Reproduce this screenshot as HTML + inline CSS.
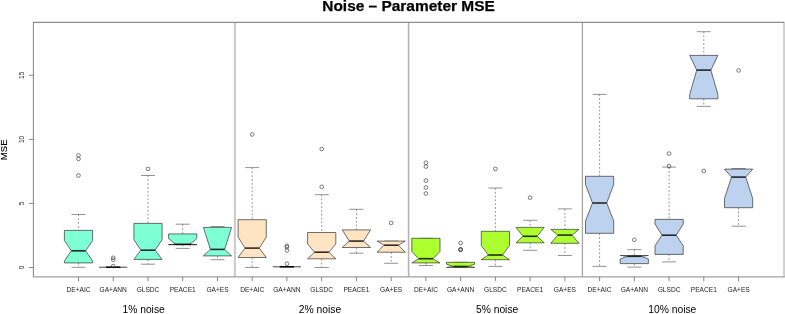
<!DOCTYPE html>
<html lang="en"><head><meta charset="utf-8"><title>Noise – Parameter MSE</title>
<style>html,body{margin:0;padding:0;background:#fff;}body{width:785px;height:314px;position:relative;overflow:hidden;font-family:"Liberation Sans",Arial,sans-serif;}</style></head>
<body>
<svg width="785" height="314" viewBox="0 0 785 314" style="display:block;position:absolute;left:0;top:0" font-family="'Liberation Sans', Arial, Helvetica, sans-serif">
<rect x="0" y="0" width="785" height="314" fill="#fff"/>
<line x1="78.5" y1="214.5" x2="78.5" y2="230.4" stroke="#777" stroke-width="0.8" stroke-dasharray="1.8 2.02"/>
<line x1="78.5" y1="262.9" x2="78.5" y2="267.3" stroke="#777" stroke-width="0.8" stroke-dasharray="1.8 2.02"/>
<line x1="71.5" y1="214.5" x2="85.5" y2="214.5" stroke="#777" stroke-width="0.8"/>
<line x1="71.5" y1="267.3" x2="85.5" y2="267.3" stroke="#777" stroke-width="0.8"/>
<polygon points="64.4,262.9 92.6,262.9 92.6,261.0 85.6,250.8 92.6,240.6 92.6,230.4 64.4,230.4 64.4,240.6 71.4,250.8 64.4,261.0" fill="#7FFFD4" stroke="#333" stroke-width="0.7" stroke-linejoin="round"/>
<line x1="71.4" y1="250.8" x2="85.6" y2="250.8" stroke="#000" stroke-opacity="0.82" stroke-width="1.6"/>
<circle cx="78.5" cy="155.4" r="1.85" fill="none" stroke="#444" stroke-width="0.7"/>
<circle cx="78.5" cy="158.9" r="1.85" fill="none" stroke="#444" stroke-width="0.7"/>
<circle cx="78.5" cy="175.5" r="1.85" fill="none" stroke="#444" stroke-width="0.7"/>
<line x1="99.1" y1="267.2" x2="127.3" y2="267.2" stroke="#333" stroke-width="0.9"/>
<line x1="106.1" y1="267.2" x2="120.3" y2="267.2" stroke="#000" stroke-width="1.5"/>
<circle cx="113.2" cy="266.1" r="1.85" fill="none" stroke="#444" stroke-width="0.7"/>
<circle cx="113.2" cy="259.7" r="1.85" fill="none" stroke="#444" stroke-width="0.7"/>
<circle cx="113.2" cy="257.8" r="1.85" fill="none" stroke="#444" stroke-width="0.7"/>
<line x1="148.0" y1="175.5" x2="148.0" y2="223.4" stroke="#777" stroke-width="0.8" stroke-dasharray="1.8 2.02"/>
<line x1="148.0" y1="259.4" x2="148.0" y2="264.2" stroke="#777" stroke-width="0.8" stroke-dasharray="1.8 2.02"/>
<line x1="141.0" y1="175.5" x2="155.0" y2="175.5" stroke="#777" stroke-width="0.8"/>
<line x1="141.0" y1="264.2" x2="155.0" y2="264.2" stroke="#777" stroke-width="0.8"/>
<polygon points="133.9,259.4 162.1,259.4 162.1,259.4 155.1,250.2 162.1,239.6 162.1,223.4 133.9,223.4 133.9,239.6 140.9,250.2 133.9,259.4" fill="#7FFFD4" stroke="#333" stroke-width="0.7" stroke-linejoin="round"/>
<line x1="140.9" y1="250.2" x2="155.1" y2="250.2" stroke="#000" stroke-opacity="0.82" stroke-width="1.6"/>
<circle cx="148.0" cy="168.9" r="1.85" fill="none" stroke="#444" stroke-width="0.7"/>
<line x1="182.7" y1="224.2" x2="182.7" y2="233.9" stroke="#777" stroke-width="0.8" stroke-dasharray="1.8 2.02"/>
<line x1="182.7" y1="244.6" x2="182.7" y2="248.4" stroke="#777" stroke-width="0.8" stroke-dasharray="1.8 2.02"/>
<line x1="175.7" y1="224.2" x2="189.7" y2="224.2" stroke="#777" stroke-width="0.8"/>
<line x1="175.7" y1="248.4" x2="189.7" y2="248.4" stroke="#777" stroke-width="0.8"/>
<polygon points="168.6,244.6 196.8,244.6 196.8,244.6 189.8,244.3 196.8,238.6 196.8,233.9 168.6,233.9 168.6,238.6 175.6,244.3 168.6,244.6" fill="#7FFFD4" stroke="#333" stroke-width="0.7" stroke-linejoin="round"/>
<line x1="168.6" y1="244.6" x2="196.8" y2="244.6" stroke="#333" stroke-width="0.9"/>
<line x1="174.4" y1="244.3" x2="191.0" y2="244.3" stroke="#000" stroke-opacity="0.82" stroke-width="1.6"/>
<line x1="217.5" y1="226.5" x2="217.5" y2="227.4" stroke="#777" stroke-width="0.8" stroke-dasharray="1.8 2.02"/>
<line x1="217.5" y1="255.9" x2="217.5" y2="259.7" stroke="#777" stroke-width="0.8" stroke-dasharray="1.8 2.02"/>
<line x1="210.5" y1="226.5" x2="224.5" y2="226.5" stroke="#777" stroke-width="0.8"/>
<line x1="210.5" y1="259.7" x2="224.5" y2="259.7" stroke="#777" stroke-width="0.8"/>
<polygon points="203.4,255.9 231.6,255.9 231.6,255.9 224.6,249.4 231.6,227.4 231.6,227.4 203.4,227.4 203.4,227.4 210.4,249.4 203.4,255.9" fill="#7FFFD4" stroke="#333" stroke-width="0.7" stroke-linejoin="round"/>
<line x1="210.4" y1="249.4" x2="224.6" y2="249.4" stroke="#000" stroke-opacity="0.82" stroke-width="1.6"/>
<line x1="252.2" y1="167.6" x2="252.2" y2="219.7" stroke="#777" stroke-width="0.8" stroke-dasharray="1.8 2.02"/>
<line x1="252.2" y1="257.5" x2="252.2" y2="267.5" stroke="#777" stroke-width="0.8" stroke-dasharray="1.8 2.02"/>
<line x1="245.2" y1="167.6" x2="259.2" y2="167.6" stroke="#777" stroke-width="0.8"/>
<line x1="245.2" y1="267.5" x2="259.2" y2="267.5" stroke="#777" stroke-width="0.8"/>
<polygon points="238.1,257.5 266.3,257.5 266.3,257.5 259.3,248.1 266.3,237.0 266.3,219.7 238.1,219.7 238.1,237.0 245.1,248.1 238.1,257.5" fill="#FFE4C4" stroke="#333" stroke-width="0.7" stroke-linejoin="round"/>
<line x1="245.1" y1="248.1" x2="259.3" y2="248.1" stroke="#000" stroke-opacity="0.82" stroke-width="1.6"/>
<circle cx="252.2" cy="134.4" r="1.85" fill="none" stroke="#444" stroke-width="0.7"/>
<line x1="272.8" y1="266.8" x2="301.0" y2="266.8" stroke="#333" stroke-width="0.9"/>
<line x1="279.8" y1="266.8" x2="294.0" y2="266.8" stroke="#000" stroke-width="1.5"/>
<circle cx="286.9" cy="263.7" r="1.85" fill="none" stroke="#444" stroke-width="0.7"/>
<circle cx="286.9" cy="250.5" r="1.85" fill="none" stroke="#444" stroke-width="0.7"/>
<circle cx="286.9" cy="247.1" r="1.85" fill="none" stroke="#444" stroke-width="0.7"/>
<circle cx="286.9" cy="245.8" r="1.85" fill="none" stroke="#444" stroke-width="0.7"/>
<line x1="321.7" y1="194.7" x2="321.7" y2="232.5" stroke="#777" stroke-width="0.8" stroke-dasharray="1.8 2.02"/>
<line x1="321.7" y1="258.8" x2="321.7" y2="267.5" stroke="#777" stroke-width="0.8" stroke-dasharray="1.8 2.02"/>
<line x1="314.7" y1="194.7" x2="328.7" y2="194.7" stroke="#777" stroke-width="0.8"/>
<line x1="314.7" y1="267.5" x2="328.7" y2="267.5" stroke="#777" stroke-width="0.8"/>
<polygon points="307.6,258.8 335.8,258.8 335.8,258.8 328.8,252.2 335.8,244.0 335.8,232.5 307.6,232.5 307.6,244.0 314.6,252.2 307.6,258.8" fill="#FFE4C4" stroke="#333" stroke-width="0.7" stroke-linejoin="round"/>
<line x1="314.6" y1="252.2" x2="328.8" y2="252.2" stroke="#000" stroke-opacity="0.82" stroke-width="1.6"/>
<circle cx="321.7" cy="149.0" r="1.85" fill="none" stroke="#444" stroke-width="0.7"/>
<circle cx="321.7" cy="186.8" r="1.85" fill="none" stroke="#444" stroke-width="0.7"/>
<line x1="356.4" y1="209.3" x2="356.4" y2="229.9" stroke="#777" stroke-width="0.8" stroke-dasharray="1.8 2.02"/>
<line x1="356.4" y1="247.5" x2="356.4" y2="253.2" stroke="#777" stroke-width="0.8" stroke-dasharray="1.8 2.02"/>
<line x1="349.4" y1="209.3" x2="363.4" y2="209.3" stroke="#777" stroke-width="0.8"/>
<line x1="349.4" y1="253.2" x2="363.4" y2="253.2" stroke="#777" stroke-width="0.8"/>
<polygon points="342.3,247.5 370.5,247.5 370.5,247.5 363.5,241.1 370.5,229.9 370.5,229.9 342.3,229.9 342.3,229.9 349.3,241.1 342.3,247.5" fill="#FFE4C4" stroke="#333" stroke-width="0.7" stroke-linejoin="round"/>
<line x1="349.3" y1="241.1" x2="363.5" y2="241.1" stroke="#000" stroke-opacity="0.82" stroke-width="1.6"/>
<line x1="391.2" y1="252.2" x2="391.2" y2="263.3" stroke="#777" stroke-width="0.8" stroke-dasharray="1.8 2.02"/>
<line x1="384.2" y1="241.1" x2="398.2" y2="241.1" stroke="#777" stroke-width="0.8"/>
<line x1="384.2" y1="263.3" x2="398.2" y2="263.3" stroke="#777" stroke-width="0.8"/>
<polygon points="377.1,252.2 405.3,252.2 405.3,252.2 398.3,245.2 405.3,241.1 405.3,241.1 377.1,241.1 377.1,241.1 384.1,245.2 377.1,252.2" fill="#FFE4C4" stroke="#333" stroke-width="0.7" stroke-linejoin="round"/>
<line x1="384.1" y1="245.2" x2="398.3" y2="245.2" stroke="#000" stroke-opacity="0.82" stroke-width="1.6"/>
<circle cx="391.2" cy="222.9" r="1.85" fill="none" stroke="#444" stroke-width="0.7"/>
<line x1="425.9" y1="262.9" x2="425.9" y2="265.5" stroke="#777" stroke-width="0.8" stroke-dasharray="1.8 2.02"/>
<line x1="418.9" y1="238.3" x2="432.9" y2="238.3" stroke="#777" stroke-width="0.8"/>
<line x1="418.9" y1="265.5" x2="432.9" y2="265.5" stroke="#777" stroke-width="0.8"/>
<polygon points="411.8,262.9 440.0,262.9 440.0,262.9 433.0,258.7 440.0,251.5 440.0,238.3 411.8,238.3 411.8,251.5 418.8,258.7 411.8,262.9" fill="#ADFF2F" stroke="#333" stroke-width="0.7" stroke-linejoin="round"/>
<line x1="418.8" y1="258.7" x2="433.0" y2="258.7" stroke="#000" stroke-opacity="0.82" stroke-width="1.6"/>
<circle cx="425.9" cy="162.7" r="1.85" fill="none" stroke="#444" stroke-width="0.7"/>
<circle cx="425.9" cy="166.6" r="1.85" fill="none" stroke="#444" stroke-width="0.7"/>
<circle cx="425.9" cy="180.6" r="1.85" fill="none" stroke="#444" stroke-width="0.7"/>
<circle cx="425.9" cy="187.5" r="1.85" fill="none" stroke="#444" stroke-width="0.7"/>
<circle cx="425.9" cy="193.5" r="1.85" fill="none" stroke="#444" stroke-width="0.7"/>
<line x1="453.6" y1="262.3" x2="467.6" y2="262.3" stroke="#777" stroke-width="0.8"/>
<line x1="453.6" y1="267.4" x2="467.6" y2="267.4" stroke="#777" stroke-width="0.8"/>
<polygon points="446.5,267.4 474.7,267.4 474.7,267.4 467.7,266.5 474.7,264.2 474.7,262.3 446.5,262.3 446.5,264.2 453.5,266.5 446.5,267.4" fill="#ADFF2F" stroke="#333" stroke-width="0.7" stroke-linejoin="round"/>
<line x1="453.5" y1="266.5" x2="467.7" y2="266.5" stroke="#000" stroke-opacity="0.82" stroke-width="1.6"/>
<circle cx="460.6" cy="243.0" r="1.85" fill="none" stroke="#444" stroke-width="0.7"/>
<circle cx="460.6" cy="249.6" r="1.85" fill="none" stroke="#444" stroke-width="0.7"/>
<circle cx="460.6" cy="249.9" r="1.85" fill="none" stroke="#444" stroke-width="0.7"/>
<circle cx="460.6" cy="249.3" r="1.85" fill="none" stroke="#444" stroke-width="0.7"/>
<line x1="495.4" y1="188.0" x2="495.4" y2="231.3" stroke="#777" stroke-width="0.8" stroke-dasharray="1.8 2.02"/>
<line x1="495.4" y1="259.7" x2="495.4" y2="266.4" stroke="#777" stroke-width="0.8" stroke-dasharray="1.8 2.02"/>
<line x1="488.4" y1="188.0" x2="502.4" y2="188.0" stroke="#777" stroke-width="0.8"/>
<line x1="488.4" y1="266.4" x2="502.4" y2="266.4" stroke="#777" stroke-width="0.8"/>
<polygon points="481.3,259.7 509.5,259.7 509.5,259.7 502.5,255.0 509.5,245.6 509.5,231.3 481.3,231.3 481.3,245.6 488.3,255.0 481.3,259.7" fill="#ADFF2F" stroke="#333" stroke-width="0.7" stroke-linejoin="round"/>
<line x1="488.3" y1="255.0" x2="502.5" y2="255.0" stroke="#000" stroke-opacity="0.82" stroke-width="1.6"/>
<circle cx="495.4" cy="168.9" r="1.85" fill="none" stroke="#444" stroke-width="0.7"/>
<line x1="530.1" y1="220.3" x2="530.1" y2="227.4" stroke="#777" stroke-width="0.8" stroke-dasharray="1.8 2.02"/>
<line x1="530.1" y1="242.8" x2="530.1" y2="250.3" stroke="#777" stroke-width="0.8" stroke-dasharray="1.8 2.02"/>
<line x1="523.1" y1="220.3" x2="537.1" y2="220.3" stroke="#777" stroke-width="0.8"/>
<line x1="523.1" y1="250.3" x2="537.1" y2="250.3" stroke="#777" stroke-width="0.8"/>
<polygon points="516.0,242.8 544.2,242.8 544.2,242.8 537.2,236.3 544.2,227.4 544.2,227.4 516.0,227.4 516.0,227.4 523.0,236.3 516.0,242.8" fill="#ADFF2F" stroke="#333" stroke-width="0.7" stroke-linejoin="round"/>
<line x1="523.0" y1="236.3" x2="537.2" y2="236.3" stroke="#000" stroke-opacity="0.82" stroke-width="1.6"/>
<circle cx="530.1" cy="197.7" r="1.85" fill="none" stroke="#444" stroke-width="0.7"/>
<line x1="564.9" y1="208.9" x2="564.9" y2="229.4" stroke="#777" stroke-width="0.8" stroke-dasharray="1.8 2.02"/>
<line x1="564.9" y1="243.3" x2="564.9" y2="255.5" stroke="#777" stroke-width="0.8" stroke-dasharray="1.8 2.02"/>
<line x1="557.9" y1="208.9" x2="571.9" y2="208.9" stroke="#777" stroke-width="0.8"/>
<line x1="557.9" y1="255.5" x2="571.9" y2="255.5" stroke="#777" stroke-width="0.8"/>
<polygon points="550.8,243.3 579.0,243.3 579.0,243.3 572.0,235.1 579.0,229.4 579.0,229.4 550.8,229.4 550.8,229.4 557.8,235.1 550.8,243.3" fill="#ADFF2F" stroke="#333" stroke-width="0.7" stroke-linejoin="round"/>
<line x1="557.8" y1="235.1" x2="572.0" y2="235.1" stroke="#000" stroke-opacity="0.82" stroke-width="1.6"/>
<line x1="599.6" y1="94.4" x2="599.6" y2="176.3" stroke="#777" stroke-width="0.8" stroke-dasharray="1.8 2.02"/>
<line x1="599.6" y1="233.3" x2="599.6" y2="266.4" stroke="#777" stroke-width="0.8" stroke-dasharray="1.8 2.02"/>
<line x1="592.6" y1="94.4" x2="606.6" y2="94.4" stroke="#777" stroke-width="0.8"/>
<line x1="592.6" y1="266.4" x2="606.6" y2="266.4" stroke="#777" stroke-width="0.8"/>
<polygon points="585.5,233.3 613.7,233.3 613.7,220.9 606.7,203.0 613.7,184.6 613.7,176.3 585.5,176.3 585.5,184.6 592.5,203.0 585.5,220.9" fill="#BCD2EE" stroke="#333" stroke-width="0.7" stroke-linejoin="round"/>
<line x1="592.5" y1="203.0" x2="606.7" y2="203.0" stroke="#000" stroke-opacity="0.82" stroke-width="1.6"/>
<line x1="634.3" y1="249.6" x2="634.3" y2="255.5" stroke="#777" stroke-width="0.8" stroke-dasharray="1.8 2.02"/>
<line x1="634.3" y1="263.6" x2="634.3" y2="267.1" stroke="#777" stroke-width="0.8" stroke-dasharray="1.8 2.02"/>
<line x1="627.3" y1="249.6" x2="641.3" y2="249.6" stroke="#777" stroke-width="0.8"/>
<line x1="627.3" y1="267.1" x2="641.3" y2="267.1" stroke="#777" stroke-width="0.8"/>
<polygon points="620.2,263.6 648.4,263.6 648.4,259.1 641.4,256.3 648.4,255.5 648.4,255.5 620.2,255.5 620.2,255.5 627.2,256.3 620.2,259.1" fill="#BCD2EE" stroke="#333" stroke-width="0.7" stroke-linejoin="round"/>
<line x1="627.2" y1="256.3" x2="641.4" y2="256.3" stroke="#000" stroke-opacity="0.82" stroke-width="1.6"/>
<circle cx="634.3" cy="239.8" r="1.85" fill="none" stroke="#444" stroke-width="0.7"/>
<line x1="669.1" y1="167.1" x2="669.1" y2="219.4" stroke="#777" stroke-width="0.8" stroke-dasharray="1.8 2.02"/>
<line x1="669.1" y1="254.4" x2="669.1" y2="261.9" stroke="#777" stroke-width="0.8" stroke-dasharray="1.8 2.02"/>
<line x1="662.1" y1="167.1" x2="676.1" y2="167.1" stroke="#777" stroke-width="0.8"/>
<line x1="662.1" y1="261.9" x2="676.1" y2="261.9" stroke="#777" stroke-width="0.8"/>
<polygon points="655.0,254.4 683.2,254.4 683.2,245.7 676.2,235.2 683.2,224.1 683.2,219.4 655.0,219.4 655.0,224.1 662.0,235.2 655.0,245.7" fill="#BCD2EE" stroke="#333" stroke-width="0.7" stroke-linejoin="round"/>
<line x1="662.0" y1="235.2" x2="676.2" y2="235.2" stroke="#000" stroke-opacity="0.82" stroke-width="1.6"/>
<circle cx="669.1" cy="153.6" r="1.85" fill="none" stroke="#444" stroke-width="0.7"/>
<circle cx="669.1" cy="166.1" r="1.85" fill="none" stroke="#444" stroke-width="0.7"/>
<line x1="703.8" y1="31.7" x2="703.8" y2="55.4" stroke="#777" stroke-width="0.8" stroke-dasharray="1.8 2.02"/>
<line x1="703.8" y1="98.8" x2="703.8" y2="106.4" stroke="#777" stroke-width="0.8" stroke-dasharray="1.8 2.02"/>
<line x1="696.8" y1="31.7" x2="710.8" y2="31.7" stroke="#777" stroke-width="0.8"/>
<line x1="696.8" y1="106.4" x2="710.8" y2="106.4" stroke="#777" stroke-width="0.8"/>
<polygon points="689.7,98.8 717.9,98.8 717.9,94.5 710.9,70.1 717.9,55.4 717.9,55.4 689.7,55.4 689.7,55.4 696.7,70.1 689.7,94.5" fill="#BCD2EE" stroke="#333" stroke-width="0.7" stroke-linejoin="round"/>
<line x1="696.7" y1="70.1" x2="710.9" y2="70.1" stroke="#000" stroke-opacity="0.82" stroke-width="1.6"/>
<circle cx="703.8" cy="171.0" r="1.85" fill="none" stroke="#444" stroke-width="0.7"/>
<line x1="738.6" y1="168.5" x2="738.6" y2="169.1" stroke="#777" stroke-width="0.8" stroke-dasharray="1.8 2.02"/>
<line x1="738.6" y1="207.7" x2="738.6" y2="226.2" stroke="#777" stroke-width="0.8" stroke-dasharray="1.8 2.02"/>
<line x1="731.6" y1="168.5" x2="745.6" y2="168.5" stroke="#777" stroke-width="0.8"/>
<line x1="731.6" y1="226.2" x2="745.6" y2="226.2" stroke="#777" stroke-width="0.8"/>
<polygon points="724.5,207.7 752.7,207.7 752.7,198.4 745.7,177.1 752.7,169.1 752.7,169.1 724.5,169.1 724.5,169.1 731.5,177.1 724.5,198.4" fill="#BCD2EE" stroke="#333" stroke-width="0.7" stroke-linejoin="round"/>
<line x1="731.5" y1="177.1" x2="745.7" y2="177.1" stroke="#000" stroke-opacity="0.82" stroke-width="1.6"/>
<circle cx="738.6" cy="70.4" r="1.85" fill="none" stroke="#444" stroke-width="0.7"/>
<line x1="234.9" y1="22.4" x2="234.9" y2="276.9" stroke="#cdcdcd" stroke-width="2.2"/>
<line x1="408.6" y1="22.4" x2="408.6" y2="276.9" stroke="#b4b4b4" stroke-width="1.6"/>
<line x1="582.4" y1="22.4" x2="582.4" y2="276.9" stroke="#a5a5a5" stroke-width="1.3"/>
<line x1="784.05" y1="22.4" x2="784.05" y2="276.9" stroke="#cfcfcf" stroke-width="1.9"/>
<line x1="32.85" y1="22.4" x2="784.3" y2="22.4" stroke="#8e8e8e" stroke-width="1.2"/>
<line x1="32.85" y1="276.9" x2="784.9" y2="276.9" stroke="#a0a0a0" stroke-width="1.3"/>
<line x1="33.4" y1="22.4" x2="33.4" y2="276.9" stroke="#8e8e8e" stroke-width="1.1"/>
<line x1="29.0" y1="267.5" x2="33.4" y2="267.5" stroke="#7d7d7d" stroke-width="0.9"/>
<text transform="translate(23.9 267.5) rotate(-90)" text-anchor="middle" font-size="6.5" fill="#222">0</text>
<line x1="29.0" y1="203.4" x2="33.4" y2="203.4" stroke="#7d7d7d" stroke-width="0.9"/>
<text transform="translate(23.9 203.4) rotate(-90)" text-anchor="middle" font-size="6.5" fill="#222">5</text>
<line x1="29.0" y1="139.4" x2="33.4" y2="139.4" stroke="#7d7d7d" stroke-width="0.9"/>
<text transform="translate(23.9 139.4) rotate(-90)" text-anchor="middle" font-size="6.5" fill="#222">10</text>
<line x1="29.0" y1="75.3" x2="33.4" y2="75.3" stroke="#7d7d7d" stroke-width="0.9"/>
<text transform="translate(23.9 75.3) rotate(-90)" text-anchor="middle" font-size="6.5" fill="#222">15</text>
<line x1="78.5" y1="276.9" x2="78.5" y2="281.29999999999995" stroke="#7d7d7d" stroke-width="0.9"/>
<text x="78.5" y="292.2" text-anchor="middle" font-size="6.6" fill="#222">DE+AIC</text>
<line x1="113.2" y1="276.9" x2="113.2" y2="281.29999999999995" stroke="#7d7d7d" stroke-width="0.9"/>
<text x="113.2" y="292.2" text-anchor="middle" font-size="6.6" fill="#222">GA+ANN</text>
<line x1="148.0" y1="276.9" x2="148.0" y2="281.29999999999995" stroke="#7d7d7d" stroke-width="0.9"/>
<text x="148.0" y="292.2" text-anchor="middle" font-size="6.6" fill="#222">GLSDC</text>
<line x1="182.7" y1="276.9" x2="182.7" y2="281.29999999999995" stroke="#7d7d7d" stroke-width="0.9"/>
<text x="182.7" y="292.2" text-anchor="middle" font-size="6.6" fill="#222">PEACE1</text>
<line x1="217.5" y1="276.9" x2="217.5" y2="281.29999999999995" stroke="#7d7d7d" stroke-width="0.9"/>
<text x="217.5" y="292.2" text-anchor="middle" font-size="6.6" fill="#222">GA+ES</text>
<line x1="252.2" y1="276.9" x2="252.2" y2="281.29999999999995" stroke="#7d7d7d" stroke-width="0.9"/>
<text x="252.2" y="292.2" text-anchor="middle" font-size="6.6" fill="#222">DE+AIC</text>
<line x1="286.9" y1="276.9" x2="286.9" y2="281.29999999999995" stroke="#7d7d7d" stroke-width="0.9"/>
<text x="286.9" y="292.2" text-anchor="middle" font-size="6.6" fill="#222">GA+ANN</text>
<line x1="321.7" y1="276.9" x2="321.7" y2="281.29999999999995" stroke="#7d7d7d" stroke-width="0.9"/>
<text x="321.7" y="292.2" text-anchor="middle" font-size="6.6" fill="#222">GLSDC</text>
<line x1="356.4" y1="276.9" x2="356.4" y2="281.29999999999995" stroke="#7d7d7d" stroke-width="0.9"/>
<text x="356.4" y="292.2" text-anchor="middle" font-size="6.6" fill="#222">PEACE1</text>
<line x1="391.2" y1="276.9" x2="391.2" y2="281.29999999999995" stroke="#7d7d7d" stroke-width="0.9"/>
<text x="391.2" y="292.2" text-anchor="middle" font-size="6.6" fill="#222">GA+ES</text>
<line x1="425.9" y1="276.9" x2="425.9" y2="281.29999999999995" stroke="#7d7d7d" stroke-width="0.9"/>
<text x="425.9" y="292.2" text-anchor="middle" font-size="6.6" fill="#222">DE+AIC</text>
<line x1="460.6" y1="276.9" x2="460.6" y2="281.29999999999995" stroke="#7d7d7d" stroke-width="0.9"/>
<text x="460.6" y="292.2" text-anchor="middle" font-size="6.6" fill="#222">GA+ANN</text>
<line x1="495.4" y1="276.9" x2="495.4" y2="281.29999999999995" stroke="#7d7d7d" stroke-width="0.9"/>
<text x="495.4" y="292.2" text-anchor="middle" font-size="6.6" fill="#222">GLSDC</text>
<line x1="530.1" y1="276.9" x2="530.1" y2="281.29999999999995" stroke="#7d7d7d" stroke-width="0.9"/>
<text x="530.1" y="292.2" text-anchor="middle" font-size="6.6" fill="#222">PEACE1</text>
<line x1="564.9" y1="276.9" x2="564.9" y2="281.29999999999995" stroke="#7d7d7d" stroke-width="0.9"/>
<text x="564.9" y="292.2" text-anchor="middle" font-size="6.6" fill="#222">GA+ES</text>
<line x1="599.6" y1="276.9" x2="599.6" y2="281.29999999999995" stroke="#7d7d7d" stroke-width="0.9"/>
<text x="599.6" y="292.2" text-anchor="middle" font-size="6.6" fill="#222">DE+AIC</text>
<line x1="634.3" y1="276.9" x2="634.3" y2="281.29999999999995" stroke="#7d7d7d" stroke-width="0.9"/>
<text x="634.3" y="292.2" text-anchor="middle" font-size="6.6" fill="#222">GA+ANN</text>
<line x1="669.1" y1="276.9" x2="669.1" y2="281.29999999999995" stroke="#7d7d7d" stroke-width="0.9"/>
<text x="669.1" y="292.2" text-anchor="middle" font-size="6.6" fill="#222">GLSDC</text>
<line x1="703.8" y1="276.9" x2="703.8" y2="281.29999999999995" stroke="#7d7d7d" stroke-width="0.9"/>
<text x="703.8" y="292.2" text-anchor="middle" font-size="6.6" fill="#222">PEACE1</text>
<line x1="738.6" y1="276.9" x2="738.6" y2="281.29999999999995" stroke="#7d7d7d" stroke-width="0.9"/>
<text x="738.6" y="292.2" text-anchor="middle" font-size="6.6" fill="#222">GA+ES</text>
<text x="143.6" y="313.1" text-anchor="middle" font-size="10.3" fill="#000">1% noise</text>
<text x="320.0" y="313.1" text-anchor="middle" font-size="10.3" fill="#000">2% noise</text>
<text x="497.1" y="313.1" text-anchor="middle" font-size="10.3" fill="#000">5% noise</text>
<text x="672.3" y="313.1" text-anchor="middle" font-size="10.3" fill="#000">10% noise</text>
<text transform="translate(7.0 149.8) rotate(-90)" text-anchor="middle" font-size="9.6" fill="#000" stroke="#000" stroke-width="0.15">MSE</text>
<text x="408.5" y="11.0" text-anchor="middle" font-size="15.45" font-weight="bold" fill="#000" stroke="#000" stroke-width="0.25">Noise – Parameter MSE</text>
</svg>
</body></html>
